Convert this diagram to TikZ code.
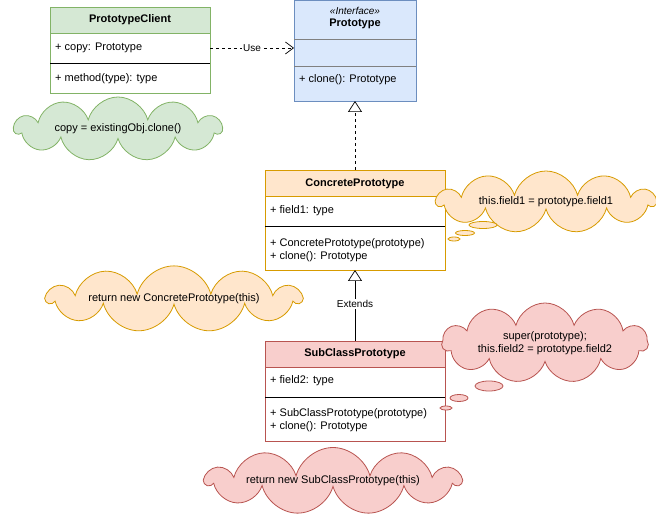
\documentclass[tikz,border=0pt]{standalone}
\usepackage{fontspec}
\setmainfont{Liberation Sans}
\usetikzlibrary{arrows.meta,shapes.symbols,shapes.geometric}
\definecolor{gF}{HTML}{D5E8D4}\definecolor{gS}{HTML}{82B366}
\definecolor{bF}{HTML}{DAE8FC}\definecolor{bS}{HTML}{6C8EBF}
\definecolor{oF}{HTML}{FFE6CC}\definecolor{oS}{HTML}{D79B00}
\definecolor{rF}{HTML}{F8CECC}\definecolor{rS}{HTML}{B85450}
\begin{document}
\begin{tikzpicture}[x=1pt,y=-1pt,font=\fontsize{11}{13}\selectfont,
  box/.style={draw,anchor=north west,inner sep=0pt,line width=0.8pt},
  txt/.style={anchor=west,inner sep=0pt},
  hdr/.style={inner sep=0pt,font=\fontsize{11}{13}\selectfont\bfseries},
  thought/.style={cloud,cloud puffs=11,cloud ignores aspect,draw,line width=0.8pt,inner sep=0pt,align=center},
  bub/.style={ellipse,draw,line width=0.8pt,inner sep=0pt},
  tri/.style={-{Triangle[open,length=11,width=14]}}]
\useasboundingbox (0,0) rectangle (656,521);
% PrototypeClient
\node[box,fill=white,draw=gS,minimum width=160,minimum height=86] (pc) at (50,7) {};
\fill[gF] (50.4,7.4) rectangle (209.6,33);
\draw[gS,line width=0.8pt] (50,7) rectangle (210,93) (50,33) -- (210,33);
\draw[black,line width=0.8pt] (50,63) -- (210,63);
\node[hdr] (pch) at (130,20) {PrototypeClient};
\node[txt] (pcf) at (55,48) {+ copy: Prototype};
\node[txt] (pcm) at (55,79) {+ method(type): type};
% Prototype
\node[box,fill=bF,draw=bS,minimum width=122,minimum height=101] (pr) at (294,0) {};
\draw[gray,line width=0.8pt] (294,39) -- (416,39) (294,66) -- (416,66);
\node[inner sep=0pt,align=center] (prh) at (355,18) {\fontsize{10}{12}\selectfont\itshape <<Interface>>\\[-1pt]\bfseries Prototype};
\node[txt] (prm) at (299,80) {+ clone(): Prototype};
% ConcretePrototype
\node[box,fill=white,draw=oS,minimum width=180,minimum height=100] (cp) at (265,170) {};
\fill[oF] (265.4,170.4) rectangle (444.6,196);
\draw[oS,line width=0.8pt] (265,170) rectangle (445,270) (265,196) -- (445,196);
\draw[black,line width=0.8pt] (265,226) -- (445,226);
\node[hdr] (cph) at (355,184) {ConcretePrototype};
\node[txt] (cpf) at (270,211) {+ field1: type};
\node[txt,align=left] (cpm) at (270,250) {+ ConcretePrototype(prototype)\\+ clone(): Prototype};
% SubClassPrototype
\node[box,fill=white,draw=rS,minimum width=180,minimum height=100] (sp) at (265,341) {};
\fill[rF] (265.4,341.4) rectangle (444.6,367);
\draw[rS,line width=0.8pt] (265,341) rectangle (445,441) (265,367) -- (445,367);
\draw[black,line width=0.8pt] (265,397) -- (445,397);
\node[hdr] (sph) at (355,354) {SubClassPrototype};
\node[txt] (spf) at (270,381) {+ field2: type};
\node[txt,align=left] (spm) at (270,420) {+ SubClassPrototype(prototype)\\+ clone(): Prototype};
% connectors
\coordinate (u1) at (210,48); \coordinate (u2) at (294,48);
\draw[dashed,-{Straight Barb[length=8,width=12]},line width=0.7pt] (u1) -- node[fill=white,inner sep=1pt,font=\fontsize{10}{12}\selectfont]{Use} (u2);
\coordinate (r1) at (355,170); \coordinate (r2) at (355,101);
\draw[dashed,tri,line width=0.7pt] (r1) -- (r2);
\coordinate (e1) at (355,341); \coordinate (e2) at (355,270);
\draw[tri,line width=0.7pt] (e1) -- node[fill=white,inner sep=1pt,font=\fontsize{10}{12}\selectfont,pos=0.52]{Extends} (e2);
% clouds
\node[thought,fill=gF,draw=gS,minimum width=207,minimum height=64] (c1) at (118,129) {copy = existingObj.clone()};
\node[thought,fill=oF,draw=oS,minimum width=253,minimum height=62] (c2) at (174,299) {return new ConcretePrototype(this)};
\node[thought,fill=oF,draw=oS,minimum width=218,minimum height=62] (c3) at (546,202) {this.field1 = prototype.field1};
\node[bub,fill=oF,draw=oS,minimum width=28,minimum height=7] (b1) at (483,225) {};
\node[bub,fill=oF,draw=oS,minimum width=19,minimum height=5] (b2) at (465,233) {};
\node[bub,fill=oF,draw=oS,minimum width=12,minimum height=4] (b3) at (454,239) {};
\node[thought,fill=rF,draw=rS,minimum width=206,minimum height=80] (c4) at (545,343) {super(prototype);\\this.field2 = prototype.field2};
\node[bub,fill=rF,draw=rS,minimum width=28,minimum height=10] (b4) at (489,386) {};
\node[bub,fill=rF,draw=rS,minimum width=18,minimum height=7] (b5) at (459,398) {};
\node[bub,fill=rF,draw=rS,minimum width=12,minimum height=4] (b6) at (446,408) {};
\node[thought,fill=rF,draw=rS,minimum width=254,minimum height=54] (c5) at (333,481) {return new SubClassPrototype(this)};
\end{tikzpicture}
\end{document}
